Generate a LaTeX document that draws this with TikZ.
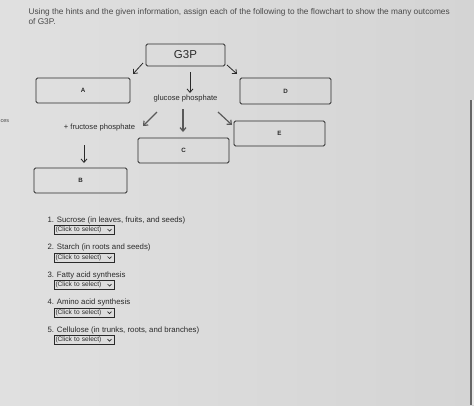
\documentclass[tikz,border=0pt]{standalone}
\usepackage{fontspec}
\setmainfont{Liberation Sans}
\usetikzlibrary{positioning, arrows.meta}
\definecolor{bgleft}{HTML}{E0E0E0}
\definecolor{bgright}{HTML}{D4D4D4}
\definecolor{ink}{HTML}{2A2A2A}

\begin{document}
\begin{tikzpicture}[x=1pt,y=-1pt,>={Straight Barb[length=3.5pt,width=6pt]},
    box node/.style={draw=ink,line width=0.9pt,rounded corners=1.5pt,minimum height=25pt,inner sep=0pt,text=ink,font=\bfseries\fontsize{6.2}{7}\selectfont},
    hint/.style={text=ink,font=\fontsize{7.6}{9}\selectfont},
    small arrow/.style={->,draw=ink,line width=0.8pt},
    big arrow/.style={->,draw=black!65,line width=1.2pt},
    select box/.style={draw=ink,line width=0.6pt,inner xsep=1.2pt,inner ysep=1.2pt,text height=4.9pt,text depth=1.4pt,text width=57.5pt,text=ink,align=left,font=\fontsize{6.6}{6.8}\selectfont}]

\useasboundingbox (0,0) rectangle (474,405);
\fill[left color=bgleft,right color=bgright] (0,0) rectangle (474,405);
\fill[black!60] (470,100) rectangle (472,405);
\fill[black!8] (472,100) rectangle (474,405);

% question
\node[anchor=north west,align=left,text=ink!85,font=\fontsize{8.3}{10}\selectfont] (question) at (25,5)
  {Using the hints and the given information, assign each of the following to the flowchart to show the many outcomes\\of G3P.};
\node[anchor=west,text=black!70,font=\fontsize{5.5}{6}\selectfont] (side) at (-3,121) {ces};

% flowchart
\node[box node,minimum width=79pt,minimum height=22pt,font=\fontsize{11.5}{12}\selectfont] (g3p) at (185.5,55) {G3P};
\node[box node,minimum width=94pt] (A) at (83,90.5) {A};
\node[box node,minimum width=91pt,minimum height=26pt] (D) at (285.5,91) {D};
\node[hint] (glu) at (185.5,99) {glucose phosphate};
\node[hint] (fru) at (99.5,128) {+ fructose phosphate};
\node[box node,minimum width=91pt] (E) at (279.5,133.5) {E};
\node[box node,minimum width=91pt] (C) at (183.5,150.5) {C};
\node[box node,minimum width=93pt] (B) at (80.5,180.5) {B};

\coordinate (g3pA) at (143,63);   \coordinate (toA) at (133,74);
\coordinate (g3pG) at (190,72);   \coordinate (toG) at (190,93);
\coordinate (g3pD) at (227,65);   \coordinate (toD) at (237,74);
\coordinate (gluF) at (157,112);  \coordinate (toF) at (143,126);
\coordinate (gluC) at (183,109);  \coordinate (toC) at (183,132);
\coordinate (gluE) at (218,112);  \coordinate (toE) at (232,125);
\coordinate (fruB) at (84,145);   \coordinate (toB) at (84,163);

\draw[small arrow] (g3pA) -- (toA);
\draw[small arrow] (g3pG) -- (toG);
\draw[small arrow] (g3pD) -- (toD);
\draw[big arrow] (gluF) -- (toF);
\draw[big arrow] (gluC) -- (toC);
\draw[big arrow] (gluE) -- (toE);
\draw[small arrow] (fruB) -- (toB);

% choices
\foreach \i/\txt [count=\k from 0] in {1/{Sucrose (in leaves, fruits, and seeds)},
    2/{Starch (in roots and seeds)},3/{Fatty acid synthesis},
    4/{Amino acid synthesis},5/{Cellulose (in trunks, roots, and branches)}}{
  \node[anchor=west,hint,font=\fontsize{7.8}{8}\selectfont] (item\i) at (44,220+27.5*\k) {\i. \txt};
  \node[select box,anchor=west] (sel\i) at (54,230+27.5*\k) {(Click to select)};
  \draw[ink,line width=0.7pt] ([xshift=-7pt,yshift=1pt]sel\i.east) -- ([xshift=-5pt,yshift=-1pt]sel\i.east) -- ([xshift=-3pt,yshift=1pt]sel\i.east);
}
\end{tikzpicture}
\end{document}
